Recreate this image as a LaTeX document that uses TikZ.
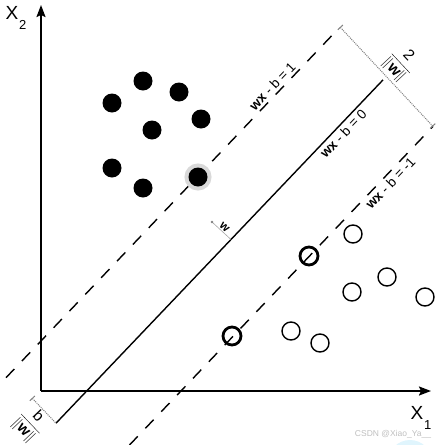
\documentclass[tikz,border=0pt]{standalone}
\usepackage{fontspec}
\setmainfont{Liberation Sans}
\usetikzlibrary{arrows.meta, calc}

\begin{document}
\begin{tikzpicture}[x=1pt,y=-1pt,>={Stealth[length=12pt,width=9pt,inset=2pt]},
    axis/.style={->,line width=1.8pt},
    dot/.style={circle,fill=black,inner sep=0pt,minimum size=19pt},
    ring/.style={circle,draw=black,line width=1.4pt,inner sep=0pt,minimum size=18pt},
    sv/.style={ring,line width=2.8pt},
    halo/.style={preaction={draw=gray!30,line width=8pt}},
    margin/.style={line width=1.4pt,dash pattern=on 12pt off 11pt},
    gap/.style={gray,densely dotted,line width=1pt},
    eq/.style={font=\fontsize{13.5}{15}\selectfont,inner sep=2.5pt},
    frac/.style={text=black,font=\fontsize{15.5}{17}\selectfont,inner sep=2pt}]
  \useasboundingbox (0,0) rectangle (441,445);

  \fill[cyan!12] (410,462) circle (22);
  \node[text=gray!50,font=\fontsize{8.5}{9}\selectfont] (mark) at (393,434) {CSDN @Xiao\_Ya\_\_};

  \coordinate (O) at (41,391);
  \coordinate (ytip) at (41,5);
  \coordinate (xtip) at (431,391);
  \draw[axis] (O) -- (ytip);
  \draw[axis] (O) -- (xtip);
  \node[font=\fontsize{19}{19}\selectfont] (x2) at (16,18) {X\kern1pt\raisebox{-10pt}{\fontsize{13}{13}\selectfont 2}};
  \node[font=\fontsize{19}{19}\selectfont] (x1) at (421,418) {X\kern1pt\raisebox{-10pt}{\fontsize{13}{13}\selectfont 1}};

  \coordinate (u1) at (6,377.7);
  \coordinate (u2) at (338,29.1);
  \coordinate (s1) at (56,423.2);
  \coordinate (s2) at (383,79.9);
  \coordinate (l1) at (129.5,445);
  \coordinate (l2) at (433,126.4);

  \draw[margin] (u1) -- node[eq,sloped,above,pos=0.82] {\textbf{wx} - b = 1} (u2);
  \draw[line width=1.4pt] (s1) -- node[eq,sloped,below,pos=0.86] {\textbf{wx} - b = 0} (s2);
  \draw[margin] (l1) -- node[eq,sloped,below,pos=0.84] {\textbf{wx} - b = -1} (l2);

  \coordinate (m1) at (340,27);
  \coordinate (m2) at (433,126.4);
  \draw[gap,{Bar[width=7pt,line width=1pt]}-{Bar[width=7pt,line width=1pt]}] (m1) -- node[frac,sloped,above] {$\displaystyle\frac{\mbox{2}}{\|\mbox{\textbf{w}}\|}$} (m2);

  \coordinate (b1) at (32,398);
  \draw[gap,{Bar[width=7pt,line width=1pt]}-] (b1) -- node[frac,sloped,below,inner sep=1pt] {$\displaystyle\frac{\mbox{b}}{\|\mbox{\textbf{w}}\|}$} (s1);

  \coordinate (w0) at (231,239.5);
  \coordinate (w1) at (212,222);
  \draw[gray!70,line width=0.6pt] (w1) -- node[text=black,font=\fontsize{12}{14}\selectfont\bfseries,sloped,above,inner sep=1pt] {w} (w0);
  \fill[gray] (w1) circle (1.3);

  \foreach \p [count=\i] in {(143,81),(179,92),(112,103),(152,130),(201,119),(112,168),(143,188)}
    \node[dot] (pos\i) at \p {};
  \node[dot,halo] (pos8) at (198,177) {};

  \foreach \p [count=\i] in {(353,234),(387,277),(352,292),(425,297),(291,331),(320,343)}
    \node[ring] (neg\i) at \p {};
  \node[sv] (neg7) at (309,256) {};
  \node[sv] (neg8) at (232,336) {};
\end{tikzpicture}
\end{document}
